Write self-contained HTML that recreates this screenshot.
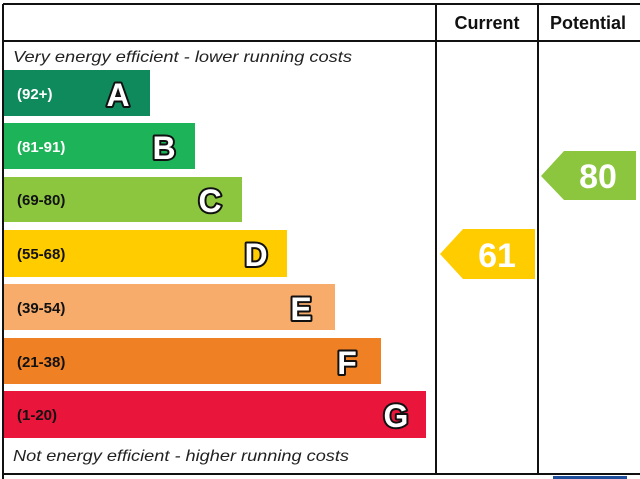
<!DOCTYPE html>
<html><head><meta charset="utf-8"><style>
html,body{margin:0;padding:0;background:#fff;width:640px;height:479px;overflow:hidden}
svg{display:block}
text{font-family:"Liberation Sans",Arial,sans-serif}
.L{font-size:32px;fill:#fff;stroke:#111;stroke-width:4;paint-order:stroke;stroke-linejoin:round;text-anchor:middle;font-weight:bold}
</style></head><body>
<svg width="640" height="479" viewBox="0 0 640 479">
<rect x="0" y="0" width="640" height="479" fill="#fff"/>
<g stroke="#111" stroke-width="2" fill="none">
<line x1="3" y1="4" x2="640" y2="4"/>
<line x1="3" y1="4" x2="3" y2="479"/>
<line x1="3" y1="41" x2="640" y2="41"/>
<line x1="3" y1="474" x2="640" y2="474"/>
<line x1="436" y1="4" x2="436" y2="474"/>
<line x1="538" y1="4" x2="538" y2="474"/>
</g>
<rect x="553" y="476" width="74" height="3" fill="#1d4f9c"/>
<text x="487" y="29" font-size="18" font-weight="bold" text-anchor="middle" fill="#111">Current</text>
<text x="588" y="29" font-size="18" font-weight="bold" text-anchor="middle" fill="#111">Potential</text>
<text x="13" y="62" font-size="16" font-style="italic" fill="#222" textLength="339" lengthAdjust="spacingAndGlyphs">Very energy efficient - lower running costs</text>
<text x="13" y="461" font-size="16" font-style="italic" fill="#222" textLength="336" lengthAdjust="spacingAndGlyphs">Not energy efficient - higher running costs</text>
<g font-weight="bold">
<rect x="4" y="70" width="146" height="46" fill="#0f8a5c"/>
<text x="17" y="99" font-size="15" fill="#fff">(92+)</text>
<text x="118" y="106" class="L">A</text>
<rect x="4" y="123" width="191" height="46" fill="#1db459"/>
<text x="17" y="152" font-size="15" fill="#fff">(81-91)</text>
<text x="164" y="159" class="L">B</text>
<rect x="4" y="177" width="238" height="45" fill="#8cc63f"/>
<text x="17" y="205" font-size="15" fill="#111">(69-80)</text>
<text x="210" y="212" class="L">C</text>
<rect x="4" y="230" width="283" height="47" fill="#ffcc00"/>
<text x="17" y="259" font-size="15" fill="#111">(55-68)</text>
<text x="256" y="266" class="L">D</text>
<rect x="4" y="284" width="331" height="46" fill="#f7ac6c"/>
<text x="17" y="313" font-size="15" fill="#111">(39-54)</text>
<text x="301" y="320" class="L">E</text>
<rect x="4" y="338" width="377" height="46" fill="#ef8023"/>
<text x="17" y="367" font-size="15" fill="#111">(21-38)</text>
<text x="347" y="374" class="L">F</text>
<rect x="4" y="391" width="422" height="47" fill="#e9153b"/>
<text x="17" y="420" font-size="15" fill="#111">(1-20)</text>
<text x="396" y="427" class="L">G</text>
</g>
<polygon points="440,254 463,229 535,229 535,279 463,279" fill="#ffcc00"/>
<text x="497" y="267" font-size="34" font-weight="bold" fill="#fff" text-anchor="middle">61</text>
<polygon points="541,176 564,151 636,151 636,200 564,200" fill="#8cc63f"/>
<text x="598" y="188" font-size="34" font-weight="bold" fill="#fff" text-anchor="middle">80</text>
</svg>
</body></html>
